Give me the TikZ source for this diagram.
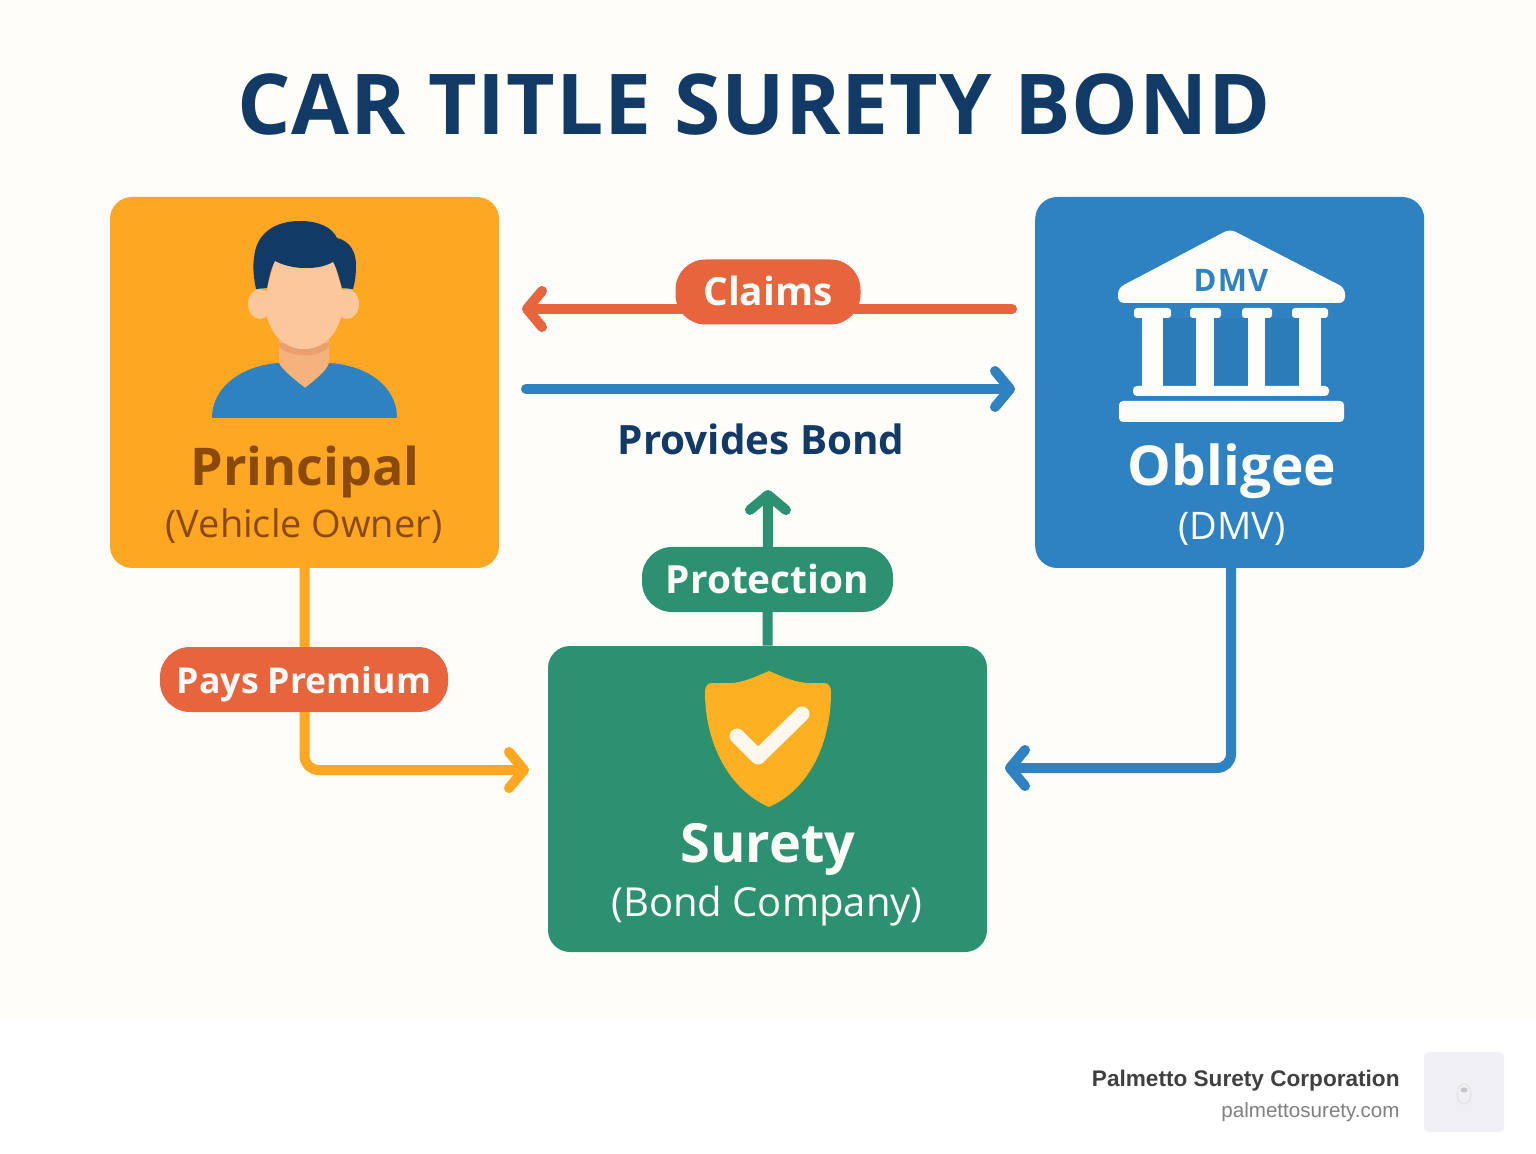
\documentclass[tikz,border=0pt]{standalone}
\usepackage{fontspec}
\setmainfont{Open Sans}
\newfontfamily\footfont{Liberation Sans}
\usetikzlibrary{positioning, arrows.meta}
\definecolor{pageBg}{HTML}{FEFDFA}
\definecolor{navy}{HTML}{113B66}
\definecolor{orangeBox}{HTML}{FDA722}
\definecolor{blueBox}{HTML}{2F82C1}
\definecolor{greenBox}{HTML}{2B9170}
\definecolor{redPill}{HTML}{E8643D}
\definecolor{brownText}{HTML}{8B4A0B}
\definecolor{skin}{HTML}{FDC79D}
\definecolor{neck}{HTML}{F5B27C}
\definecolor{neckDark}{HTML}{E9A06F}
\definecolor{shieldCol}{HTML}{FDB022}
\definecolor{cream}{HTML}{FDF8EE}
\definecolor{logoBg}{HTML}{EFEFF4}
\definecolor{blueShade}{HTML}{2C7CB9}
\begin{document}
\begin{tikzpicture}[
                x=0.5pt, y=-0.5pt,
                Box/.style = {rounded corners=11pt, minimum width=194.5pt, minimum height=185.5pt, inner sep=0pt},
                Pill/.style = {rounded corners=15pt, minimum height=32.5pt, inner sep=0pt, text=pageBg,
                    font=\bfseries\fontsize{19.4}{24}\selectfont, text height=14pt, text depth=0pt},
                Name/.style = {anchor=base, font=\bfseries\fontsize{27}{32}\selectfont},
                Sub/.style = {anchor=base, font=\fontsize{19}{23}\selectfont},
                Link/.style = {line width=5pt, line cap=round, rounded corners=7pt,
                    -{Straight Barb[length=7.5pt, width=18pt, round]}}
            ]
            \useasboundingbox (0,0) rectangle (1536,1154);
            \fill[white] (0,0) rectangle (1536,1154);
            \fill[pageBg] (0,0) rectangle (1536,1022);

            \node (title) [anchor=base, text=navy, font=\bfseries\fontsize{42}{50}\selectfont] at (754,135) {\addfontfeature{LetterSpace=1}CAR TITLE SURETY BOND};

            % the three parties
            \node (principal) [Box, fill=orangeBox] at (304.5,382.5) {};
            \node (obligee) [Box, fill=blueBox, right=267.7pt of principal] {};
            \node (surety) [Box, fill=greenBox, minimum width=219.5pt, minimum height=153pt] at (767.5,799) {};

            \coordinate (claimsStart) at (1012,309);
            \coordinate (claimsEnd) at (522,309);
            \coordinate (bondStart) at (526,389);
            \coordinate (bondEnd) at (1015,389);
            \coordinate (protectEnd) at (768,490);
            \coordinate (premiumEnd) at (529,770);
            \coordinate (dmvEnd) at (1005,768);

            \draw[Link, redPill] (claimsStart) -- (claimsEnd);
            \draw[Link, blueBox] (bondStart) -- (bondEnd);
            \draw[Link, greenBox, line cap=butt] (surety.north) -- (protectEnd);
            \draw[Link, orangeBox] (principal.south) |- (premiumEnd);
            \draw[Link, blueBox] (1231,568) |- (dmvEnd);

            \node (claims) [Pill, fill=redPill, minimum width=92.5pt] at (768,292) {Claims};
            \node (protection) [Pill, fill=greenBox, minimum width=125.5pt] at (767.5,579.5) {Protection};
            \node (premium) [Pill, fill=redPill, minimum width=144pt, font=\bfseries\fontsize{17.8}{24}\selectfont] at (304,679.5) {Pays Premium};
            \node (provides) [anchor=base, text=navy, font=\bfseries\fontsize{20.2}{24}\selectfont] at (761,455) {Provides Bond};

            \node (principalName) [Name, text=brownText, font=\bfseries\fontsize{26}{32}\selectfont] at (305,486) {Principal};
            \node (principalSub) [Sub, text=brownText] at (304,538) {(Vehicle Owner)};
            \node (obligeeName) [Name, text=pageBg, font=\bfseries\fontsize{27.5}{32}\selectfont] at (1232,486) {Obligee};
            \node (obligeeSub) [Sub, text=pageBg] at (1232,539) {(DMV)};
            \node (suretyName) [Name, text=pageBg] at (768,862) {Surety};
            \node (suretySub) [Sub, text=pageBg, font=\fontsize{20}{25}\selectfont] at (767,916) {(Bond Company)};

            % person
            \fill[neck] (279,340) -- (329,340) -- (329,367) -- (308,386) .. controls (306,388) and (304,388) .. (302,386) -- (279,367) -- cycle;
            \fill[neckDark] (279,343) -- (329,343) -- (329,347) .. controls (318,358) and (292,358) .. (279,347) -- cycle;
            \fill[blueBox] (212,418) .. controls (212,385) and (245,365) .. (279,363)
                .. controls (281,369) and (295,380) .. (305,388) .. controls (315,380) and (327,371) .. (329,363)
                .. controls (365,365) and (397,385) .. (397,418) -- cycle;
            \fill[skin] (260,304) ellipse [x radius=12, y radius=15];
            \fill[skin] (347,304) ellipse [x radius=12, y radius=15];
            \fill[skin] (275,258) -- (333,258) .. controls (340,280) and (344,295) .. (343,305)
                .. controls (341,332) and (325,349) .. (304,349)
                .. controls (283,349) and (267,332) .. (265,305) .. controls (264,295) and (270,280) .. (275,258) -- cycle;
            \fill[navy] (267,288) -- (256,289) .. controls (253,275) and (253,265) .. (254,258)
                .. controls (256,233) and (275,221) .. (300,221)
                .. controls (318,221) and (332,227) .. (337,238)
                .. controls (350,241) and (356,252) .. (356,265)
                .. controls (356,275) and (355,282) .. (353,289) -- (342,288)
                .. controls (339,278) and (336,266) .. (333,262)
                .. controls (322,268) and (312,268) .. (305,268)
                .. controls (295,268) and (285,266) .. (275,261)
                .. controls (271,268) and (269,278) .. (267,288) -- cycle;

            % building
            \fill[blueShade] (1163,318) rectangle (1299,386);
            \fill[pageBg, rounded corners=3pt] (1230,229) -- (1345,288) -- (1345,303) -- (1118,303) -- (1118,288) -- cycle;
            \begin{scope}[pageBg]
                \fill[rounded corners=1.5pt] (1134,308) rectangle (1171,318);
                \fill[rounded corners=1.5pt] (1190,308) rectangle (1221,318);
                \fill[rounded corners=1.5pt] (1242,308) rectangle (1272,318);
                \fill[rounded corners=1.5pt] (1292,308) rectangle (1328,318);
                \fill (1142,316) rectangle (1163,388);
                \fill (1196,316) rectangle (1214,388);
                \fill (1248,316) rectangle (1265,388);
                \fill (1299,316) rectangle (1321,388);
                \fill[rounded corners=2pt] (1133,386) rectangle (1329,396);
                \fill[rounded corners=2pt] (1119,401) rectangle (1344,422);
            \end{scope}
            \node (dmvSign) [anchor=base, text=blueBox, font=\bfseries\fontsize{15.5}{20}\selectfont] at (1231,292) {\addfontfeature{LetterSpace=4}DMV};

            % shield
            \fill[shieldCol] (769,671) .. controls (755,677) and (742,683) .. (730,683)
                -- (712,683) .. controls (707,683) and (705,687) .. (705,692)
                .. controls (705,745) and (730,790) .. (769,807)
                .. controls (808,790) and (831,745) .. (831,692)
                .. controls (831,687) and (829,683) .. (824,683) -- (810,683)
                .. controls (796,683) and (783,677) .. (769,671) -- cycle;
            \draw[cream, line width=7.5pt, line cap=round, line join=round] (737,736) -- (758,757) -- (802,714);

            % footer
            \node (company) [anchor=base east, inner sep=0pt, text=black!75, font=\footfont\fontsize{11.3}{14}\selectfont\bfseries] at (1400,1086) {Palmetto Surety Corporation};
            \node (site) [anchor=base east, inner sep=0pt, text=black!50, font=\footfont\fontsize{10.3}{13}\selectfont] at (1400,1117) {palmettosurety.com};
            \node (logo) [fill=logoBg, rounded corners=2.5pt, minimum width=40pt, minimum height=40pt, inner sep=0pt] at (1464,1092) {};
            \draw[black!12, line width=0.4pt] (1464,1094) ellipse [x radius=7, y radius=10];
            \fill[black!22] (1464,1090) ellipse [x radius=3.5, y radius=2.5];
        \end{tikzpicture}
\end{document}
